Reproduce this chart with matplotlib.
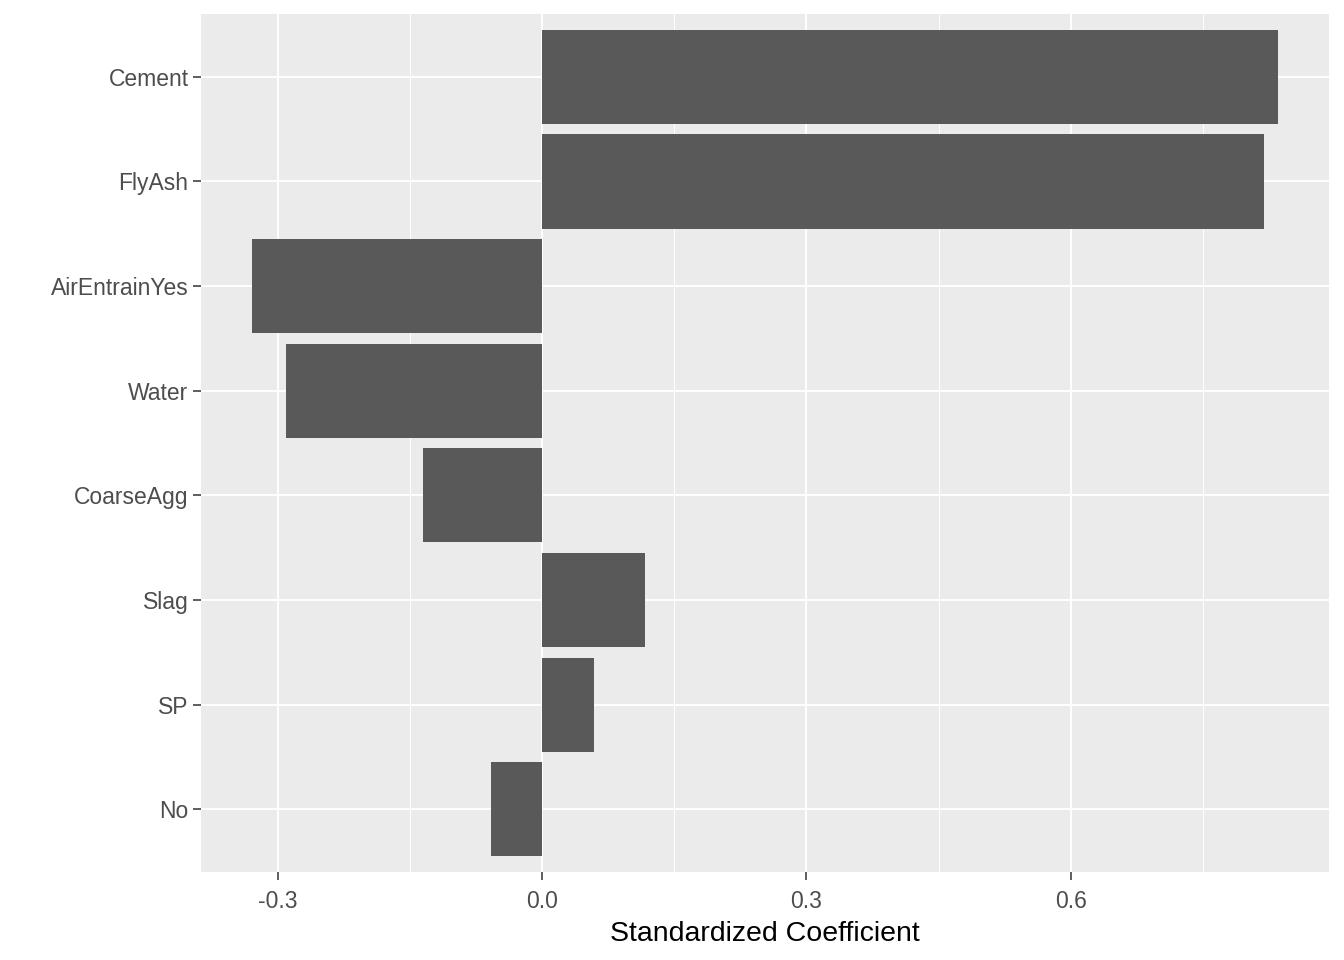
import matplotlib
matplotlib.use("Agg")
import matplotlib.pyplot as plt

# data (bottom to top)
names = ["No", "SP", "Slag", "CoarseAgg", "Water", "AirEntrainYes", "FlyAsh", "Cement"]
coef = [-0.058, 0.059, 0.117, -0.135, -0.291, -0.329, 0.819, 0.835]

plt.rcParams['font.family'] = ['Liberation Sans', 'DejaVu Sans']

fig = plt.figure(figsize=(13.44, 9.6), dpi=100)
ax = fig.add_axes([201 / 1344, 88 / 960, 1128 / 1344, 858 / 960])
ax.set_facecolor("#EBEBEB")

ypos = list(range(1, len(names) + 1))
ax.barh(ypos, coef, height=0.9, color="#595959", zorder=3)

ax.set_xlim(-0.387, 0.893)
ax.set_ylim(0.4, len(names) + 0.6)

ax.set_xticks([-0.3, 0.0, 0.3, 0.6])
ax.set_xticklabels(["-0.3", "0.0", "0.3", "0.6"])
ax.set_xticks([-0.15, 0.15, 0.45, 0.75], minor=True)
ax.set_yticks(ypos)
ax.set_yticklabels(names)

ax.grid(which="major", color="white", linewidth=1.4, zorder=0)
ax.grid(which="minor", axis="x", color="white", linewidth=0.7, zorder=0)
ax.set_axisbelow(True)

for s in ax.spines.values():
    s.set_visible(False)

ax.tick_params(axis="both", which="major", length=6, width=1.1, color="#333333",
               labelsize=16.5, labelcolor="#4D4D4D", pad=3)
ax.tick_params(axis="x", which="major", pad=7)
ax.tick_params(which="minor", length=0)

ax.set_xlabel("Standardized Coefficient", fontsize=20.5, color="black", labelpad=6)

fig.savefig("out.png", dpi=100)
